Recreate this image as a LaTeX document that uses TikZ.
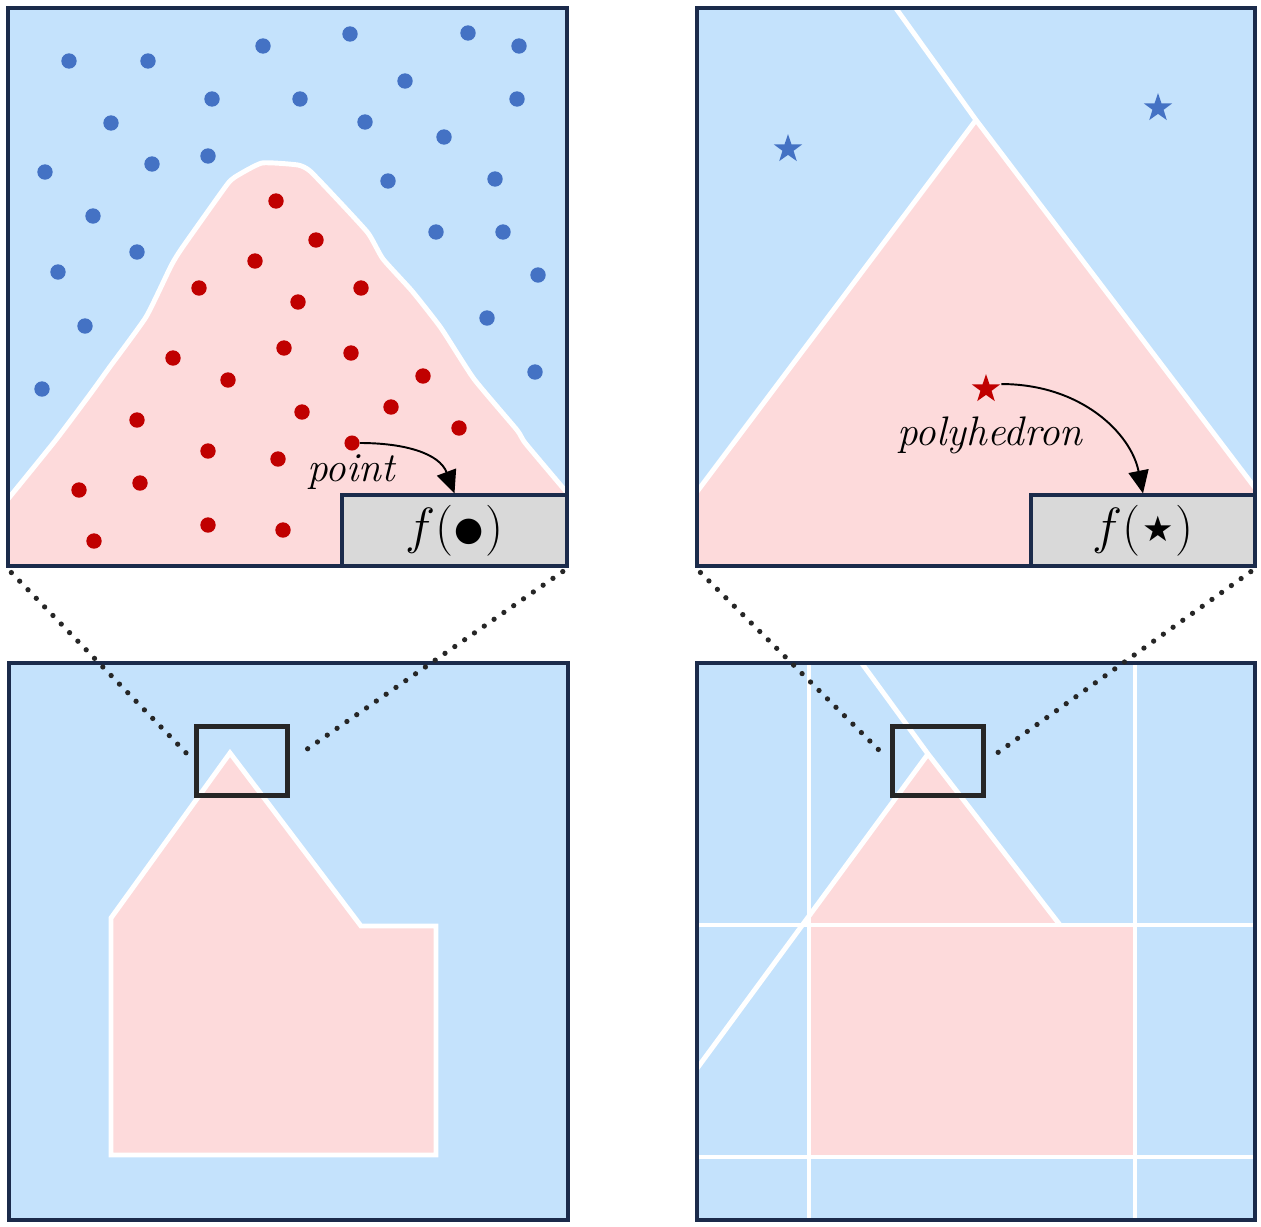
\documentclass[tikz,border=0pt]{standalone}
\usepackage{fix-cm}
\usepackage{fontspec}
\newfontfamily\symfont{DejaVu Sans}
\usetikzlibrary{arrows.meta,shapes.geometric}
\definecolor{bgblue}{HTML}{C4E2FC}
\definecolor{bgpink}{HTML}{FDDADB}
\definecolor{dotblue}{HTML}{4472C4}
\definecolor{dotred}{HTML}{C00000}
\definecolor{framecol}{HTML}{1B2B4B}
\definecolor{boxgray}{HTML}{D9D9D9}
\definecolor{zoomgray}{HTML}{262626}
\def\pxu{0.5690551pt}
\begin{document}
\begin{tikzpicture}[x=0.02cm,y=-0.02cm,
  panel/.style={draw=framecol,line width=1.8pt,inner sep=0pt,fill=none},
  sep/.style={draw=white,line width=2.8pt,line join=miter},
  fbox/.style={draw=framecol,line width=1.8pt,fill=boxgray,inner sep=0pt,
    minimum width=225*\pxu,minimum height=71*\pxu,font=\fontsize{29}{31}\selectfont},
  zoombox/.style={draw=zoomgray,line width=2.9pt,inner sep=0pt,
    minimum width=91*\pxu,minimum height=69*\pxu},
  dotline/.style={draw=zoomgray,line width=3pt,line cap=round,
    dash pattern=on 0pt off 6.8pt,shorten <=4pt,shorten >=6pt},
  conn/.style={-{Triangle[length=13pt,width=11.5pt]},line width=1.1pt,black},
  lbl/.style={font=\fontsize{23.5}{27}\selectfont\itshape,inner sep=0pt},
  starmark/.style={star,star points=5,star point ratio=2.55,inner sep=0pt,
    minimum size=17pt,draw=none},
  ptmark/.style={circle,inner sep=0pt,minimum size=8.6pt,fill=dotred,draw=none}]
\useasboundingbox (0,0) rectangle (1261,1227);

% ---------------- top-left panel ----------------
\begin{scope}
  \clip (8,8) rectangle (567,566);
  \fill[bgblue] (0,0) rectangle (580,580);
  \path[fill=bgpink,sep] plot[smooth,tension=0.3] coordinates {
    (-5,515) (55,441) (91,393) (109,368) (146,317) (171,266) (182,248)
    (226,186) (235,177) (262,163) (298,165) (310,171) (335,197) (368,233)
    (383,259) (412,291) (441,328) (474,379) (517,430) (526,444) (580,508)}
    -- (585,585) -- (-10,585) -- cycle;
  \foreach \x/\y in {69/61,148/61,263/46,350/34,468/33,519/46,405/81,212/99,
      300/99,517/99,111/123,365/122,444/137,208/156,152/164,45/172,388/181,
      495/179,93/216,436/232,503/232,137/252,58/272,538/275,487/318,85/326,
      535/372,42/389}
    \fill[dotblue] (\x,\y) circle (7.7);
  \foreach \x/\y in {276/201,316/240,255/261,199/288,361/288,298/302,284/348,
      351/353,173/358,228/380,423/376,302/412,391/407,137/420,459/428,
      208/451,278/459,79/490,140/483,94/541,208/525,283/530}
    \fill[dotred] (\x,\y) circle (7.7);
\end{scope}
\node (fbox1) [fbox] at (454.5,530.5) {$f($\kern1pt\raisebox{1.5pt}{\symfont\fontsize{19}{19}\selectfont ●}\kern1pt$)$};
\node (pdot) [ptmark] at (352,443) {};
\draw[conn] (pdot.east) .. controls +(45,0) and +(-15,-40) .. (fbox1.north);
\node (lpoint) [lbl,anchor=base] at (351,481) {point};
\node (tl) [panel,minimum width=559*\pxu,minimum height=558*\pxu] at (287.5,287) {};

% ---------------- top-right panel ----------------
\begin{scope}
  \clip (697,8) rectangle (1255,566);
  \fill[bgblue] (690,0) rectangle (1265,580);
  \fill[bgpink] (690,501) -- (976,120) -- (1265,501) -- (1265,580) -- (690,580) -- cycle;
  \draw[sep] (890,0) -- (976,120) -- (1265,501);
  \draw[sep] (976,120) -- (690,501);
\end{scope}
\node (bstar1) [starmark,fill=dotblue] at (788,149) {};
\node (bstar2) [starmark,fill=dotblue] at (1158,108) {};
\node (rstar) [starmark,fill=dotred] at (986,389) {};
\node (fbox2) [fbox,minimum width=224*\pxu] at (1143,530.5) {$f($\kern1pt\raisebox{1pt}{\symfont\fontsize{20}{20}\selectfont ★}\kern1pt$)$};
\draw[conn] (rstar.18) .. controls +(80,0) and +(-12,-60) .. (fbox2.north);
\node (lpoly) [lbl,anchor=base] at (990,445) {polyhedron};
\node (tr) [panel,minimum width=558*\pxu,minimum height=558*\pxu] at (976,287) {};

% ---------------- bottom-left panel ----------------
\begin{scope}
  \clip (9,663) rectangle (568,1220);
  \fill[bgblue] (0,655) rectangle (580,1230);
  \path[fill=bgpink,sep] (230,753) -- (111,918) -- (111,1155) -- (436,1155)
    -- (436,926) -- (361,926) -- cycle;
\end{scope}
\node (zb1) [zoombox] at (242,761) {};
\node (bl) [panel,minimum width=559*\pxu,minimum height=557*\pxu] at (288.5,941.5) {};

% ---------------- bottom-right panel ----------------
\begin{scope}
  \clip (697,663) rectangle (1255,1220);
  \fill[bgblue] (690,655) rectangle (1265,1230);
  \fill[bgpink] (928,754) -- (1060,925) -- (809,925) -- (809,916) -- cycle;
  \fill[bgpink] (809,925) rectangle (1135,1157);
  \draw[sep] (809,650) -- (809,1230);
  \draw[sep] (1135,650) -- (1135,1230);
  \draw[sep] (690,925) -- (1265,925);
  \draw[sep] (690,1157) -- (1265,1157);
  \draw[sep] (855,654) -- (928,754) -- (1060,925);
  \draw[sep] (928,754) -- (690,1078);
\end{scope}
\node (zb2) [zoombox] at (938,761) {};
\node (br) [panel,minimum width=558*\pxu,minimum height=557*\pxu] at (976,941.5) {};

% ---------------- zoom connectors ----------------
\draw[dotline] (tl.south west) -- (zb1.west);
\draw[dotline] (tl.south east) -- (zb1.east);
\draw[dotline] (tr.south west) -- (zb2.west);
\draw[dotline] (tr.south east) -- (zb2.east);
\end{tikzpicture}
\end{document}
